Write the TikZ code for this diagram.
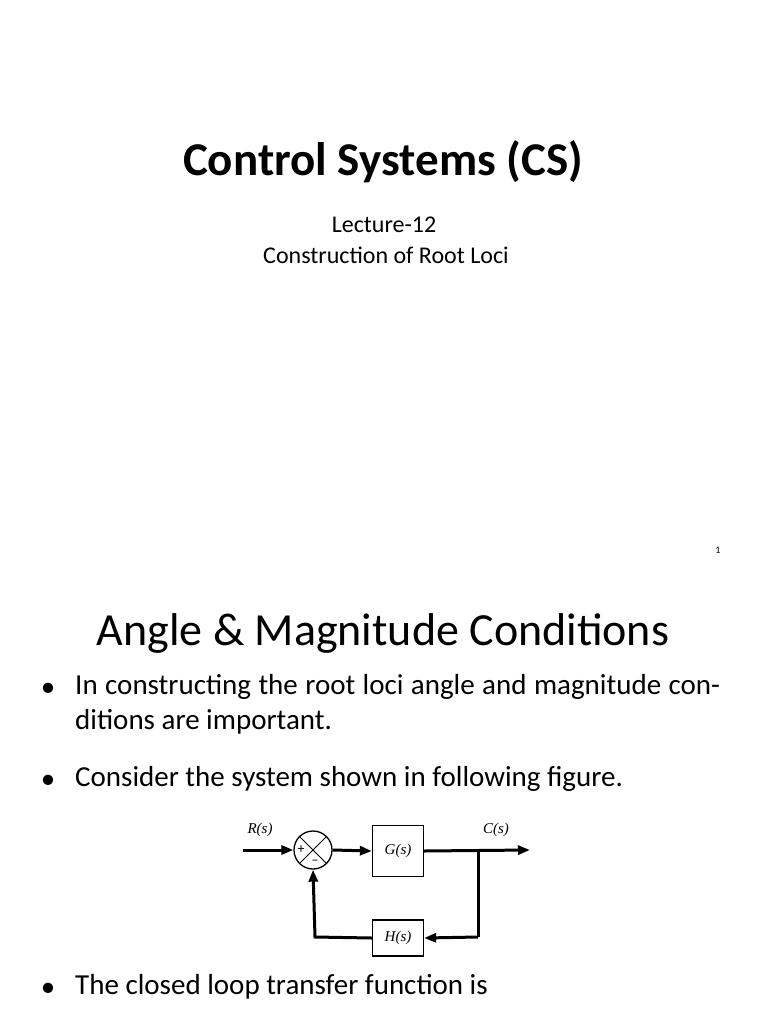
\documentclass[tikz,border=0pt]{standalone}
\usepackage{fontspec}
\setmainfont{Carlito}
\newfontfamily\tms{Liberation Serif}
\usetikzlibrary{arrows.meta}
\begin{document}
\begin{tikzpicture}[x=1pt,y=-1pt,
  blk/.style={draw,line width=1.3pt,minimum width=51pt,minimum height=51pt,inner sep=0pt},
  sig/.style={line width=3pt,-{Triangle[length=12pt,width=9pt]}},
  ln/.style={line width=3pt},
  lbl/.style={font=\tms\fontsize{15}{15}\selectfont\itshape},
  bul/.style={anchor=north west,text width=645pt,align=justify,inner sep=0pt,font=\fontsize{29}{35}\selectfont},
  dot/.style={font=\fontsize{29}{29}\selectfont}]
\useasboundingbox[fill=white] (0,0) rectangle (768,1024);
\node (t) at (383,162) {\fontsize{47}{47}\selectfont\bfseries Control Systems (CS)};
\node (l1) at (384,225) {\fontsize{24}{24}\selectfont Lecture-12};
\node (l2) at (386,255) {\fontsize{24}{24}\selectfont Construction of Root Loci};
\node (pg) at (718,550) {\fontsize{10}{10}\selectfont 1};
\node (h) at (383,633) {\fontsize{46}{46}\selectfont Angle \& Magnitude Conditions};
\node[dot] (b1) at (48,690) {•};
\node[bul] (p1) at (75,674) {In constructing the root loci angle and magnitude conditions are important.};
\node[dot] (b2) at (48,782) {•};
\node[bul] (p2) at (75,766) {Consider the system shown in following figure.};
\node[dot] (b3) at (48,990) {•};
\node[bul] (p3) at (75,974) {The closed loop transfer function is};
% diagram
\node[draw,circle,line width=1.3pt,minimum size=38pt,inner sep=0pt] (s) at (313,850) {};
\draw[line width=1pt] (s.north west) -- (s.south east) (s.north east) -- (s.south west);
\node[font=\fontsize{14}{14}\selectfont] (pl) at (301,850) {+};
\node[font=\fontsize{14}{14}\selectfont] (mi) at (315,862) {--};
\node[blk] (g) at (398,851) {\tms\fontsize{15}{15}\selectfont\itshape G(s)};
\node[blk,minimum height=36pt] (hh) at (398,938) {\tms\fontsize{15}{15}\selectfont\itshape H(s)};
\coordinate (in) at (243,850);
\coordinate (out) at (530,850);
\coordinate (br) at (478,850);
\coordinate (fb) at (478,937);
\coordinate (fl) at (315,937);
\node[lbl] (rl) at (260,830) {R(s)};
\node[lbl] (cl) at (496,830) {C(s)};
\draw[sig] (in) -- (s.west);
\draw[sig] (s.east) -- (g.west);
\draw[sig] (g.east) -- (out);
\draw[ln] (br) -- (fb);
\draw[sig] (fb) -- (hh.east);
\draw[sig] (hh.west) -- (fl) -- (s.south);
\end{tikzpicture}
\end{document}
